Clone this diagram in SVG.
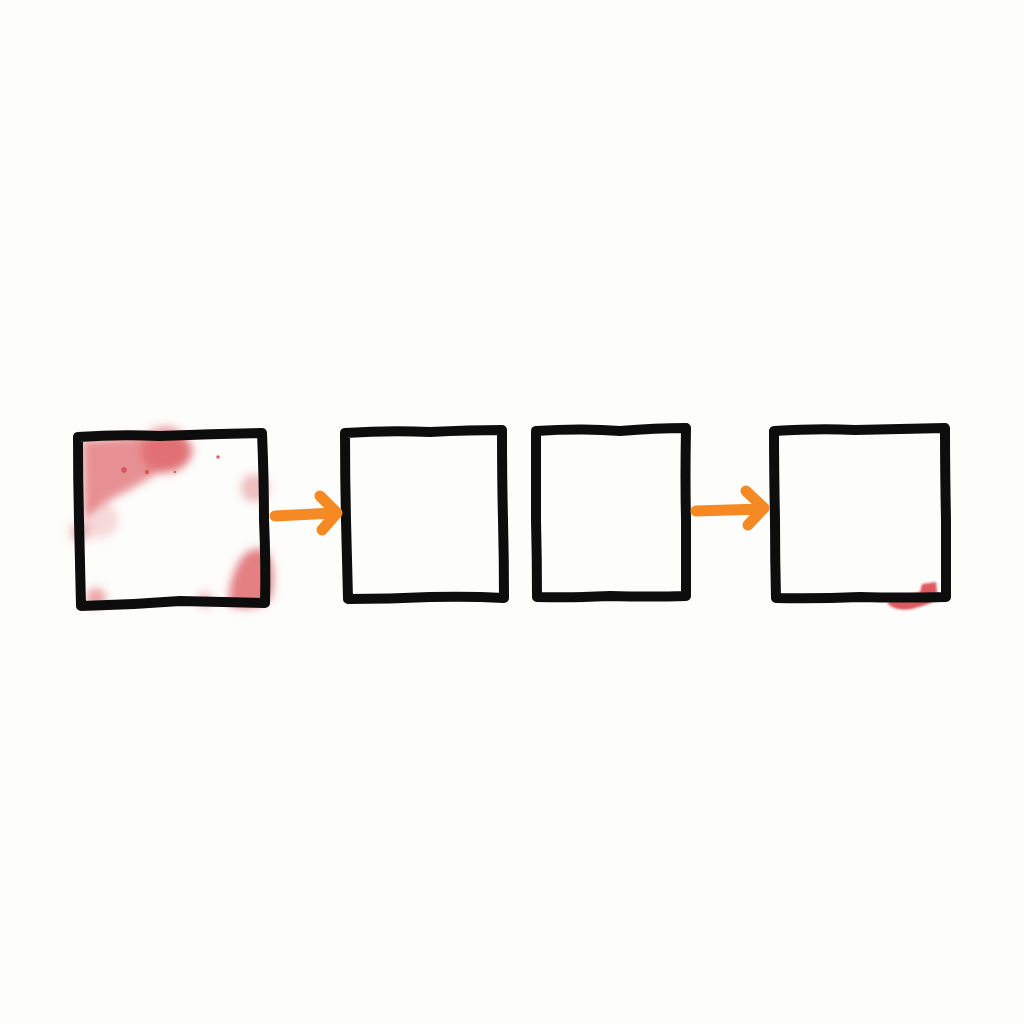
<svg xmlns="http://www.w3.org/2000/svg" width="1024" height="1024" viewBox="0 0 1024 1024">
<defs>
<style>
.box{fill:none;stroke:#0d0d0d;stroke-width:10;stroke-linejoin:round;stroke-linecap:round}
.arrow{fill:none;stroke:#f58a25;stroke-width:11;stroke-linecap:round;stroke-linejoin:round}
.stain{fill:#d9494e}
</style>
<filter id="soft" x="-20%" y="-20%" width="140%" height="140%"><feGaussianBlur stdDeviation="4"/></filter>
<filter id="soft2" x="-20%" y="-20%" width="140%" height="140%"><feGaussianBlur stdDeviation="1"/></filter>
</defs>
<rect width="1024" height="1024" fill="#fdfdfc"/>
<g id="stains">
<g filter="url(#soft)">
<path class="stain" opacity="0.6" d="M82 440 L150 436 Q180 428 192 445 Q196 462 176 470 Q160 468 150 478 Q130 490 110 500 Q92 510 84 520 Z"/>
<circle class="stain" cx="165" cy="450" r="24" opacity="0.45"/>
<circle class="stain" cx="255" cy="488" r="14" opacity="0.35"/>
<circle class="stain" cx="80" cy="532" r="10" opacity="0.35"/>
<path class="stain" opacity="0.7" d="M240 560 Q250 545 266 550 Q278 570 270 600 Q255 612 230 606 Q226 585 240 560 Z"/>
<circle class="stain" cx="96" cy="598" r="10" opacity="0.5"/>
<circle class="stain" cx="205" cy="600" r="8" opacity="0.35"/>
<circle class="stain" cx="100" cy="520" r="18" opacity="0.2"/>
</g>
<g class="stain" opacity="0.85">
<circle cx="124" cy="470" r="2.8"/>
<circle cx="147" cy="472" r="2.2"/>
<circle cx="218" cy="457" r="1.8"/>
<circle cx="175" cy="472" r="1.3"/>
</g>
<path class="stain" filter="url(#soft2)" opacity="0.9" d="M887 603 Q900 596 920 592 L922 584 L936 582 L938 600 Q925 606 912 609 Q895 612 887 603 Z"/>
</g>
<g id="node1"><path class="box" d="M78 437 Q120 434 160 436 Q210 434 262 433 Q264 480 264 520 Q266 565 265 603 Q220 602 180 601 Q130 605 81 606 Q80 560 79 520 Q78 480 78 437 Z"/></g>
<g id="node2"><path class="box" d="M345 433 Q390 430 430 432 Q470 430 502 430 Q502 480 503 520 Q504 560 504 598 Q470 596 430 597 Q390 599 348 599 Q347 560 346 520 Q345 475 345 433 Z"/></g>
<g id="node3"><path class="box" d="M536 431 Q580 428 620 431 Q655 428 686 428 Q685 480 686 520 Q686 560 686 596 Q650 597 610 596 Q570 598 537 597 Q537 560 536 520 Q536 475 536 431 Z"/></g>
<g id="node4"><path class="box" d="M774 431 Q820 428 855 430 Q900 429 945 428 Q945 470 946 520 Q946 560 946 597 Q900 598 860 597 Q815 599 776 598 Q775 560 775 520 Q774 470 774 431 Z"/></g>
<g id="connectors">
<path class="arrow" d="M275 516 L334 513 M320 496 L337 513 L322 530"/>
<path class="arrow" d="M696 511 L761 509 M746 491 L764 508 L748 525"/>
</g>
</svg>
